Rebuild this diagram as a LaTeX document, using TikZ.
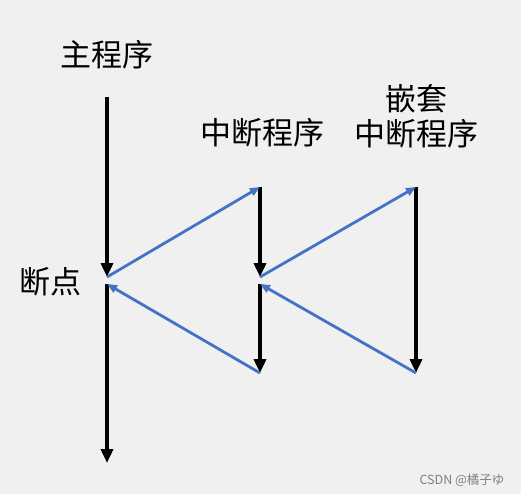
\documentclass[tikz,border=0pt]{standalone}
\usepackage{fontspec}
\newfontfamily\cjk{Noto Sans CJK SC}
\usetikzlibrary{arrows.meta}
\definecolor{bggray}{HTML}{F0F0F0}
\definecolor{retblue}{HTML}{4472C4}

\begin{document}
\begin{tikzpicture}[x=1pt,y=-1pt,
    every node/.style={font=\cjk\fontsize{31}{35}\selectfont,inner sep=0pt},
    flow/.style={-{Triangle[length=14pt,width=12pt]},line width=3.5pt,black},
    ret/.style={-{Triangle[length=10pt,width=8pt]},line width=2.8pt,retblue}]
  \fill[bggray] (0,0) rectangle (521,494);
  % points on the three lines
  \coordinate (m0) at (107,97);
  \coordinate (bp1) at (107,277);
  \coordinate (bq1) at (107,284);
  \coordinate (m1) at (107,463);
  \coordinate (i0) at (260,187);
  \coordinate (bp2) at (260,277);
  \coordinate (bq2) at (260,284);
  \coordinate (i1) at (260,373);
  \coordinate (n0) at (416,187);
  \coordinate (n1) at (416,373);
  % labels
  \node (main) at (107,55) {主程序};
  \node (isr) at (262,133) {中断程序};
  \node[align=center] (nested) at (416,116) {嵌套\\中断程序};
  \node (brk) at (50,282) {断点};
  \node[font=\cjk\fontsize{12.5}{14}\selectfont,text=gray] (mark) at (462,480) {CSDN @橘子ゆ};
  % program flow
  \draw[flow] (m0) -- (bp1);
  \draw[flow] (bq1) -- (m1);
  \draw[flow] (i0) -- (bp2);
  \draw[flow] (bq2) -- (i1);
  \draw[flow] (n0) -- (n1);
  % jumps and returns
  \draw[ret] (bp1) -- (i0);
  \draw[ret] (i1) -- (bq1);
  \draw[ret] (bp2) -- (n0);
  \draw[ret] (n1) -- (bq2);
\end{tikzpicture}
\end{document}
